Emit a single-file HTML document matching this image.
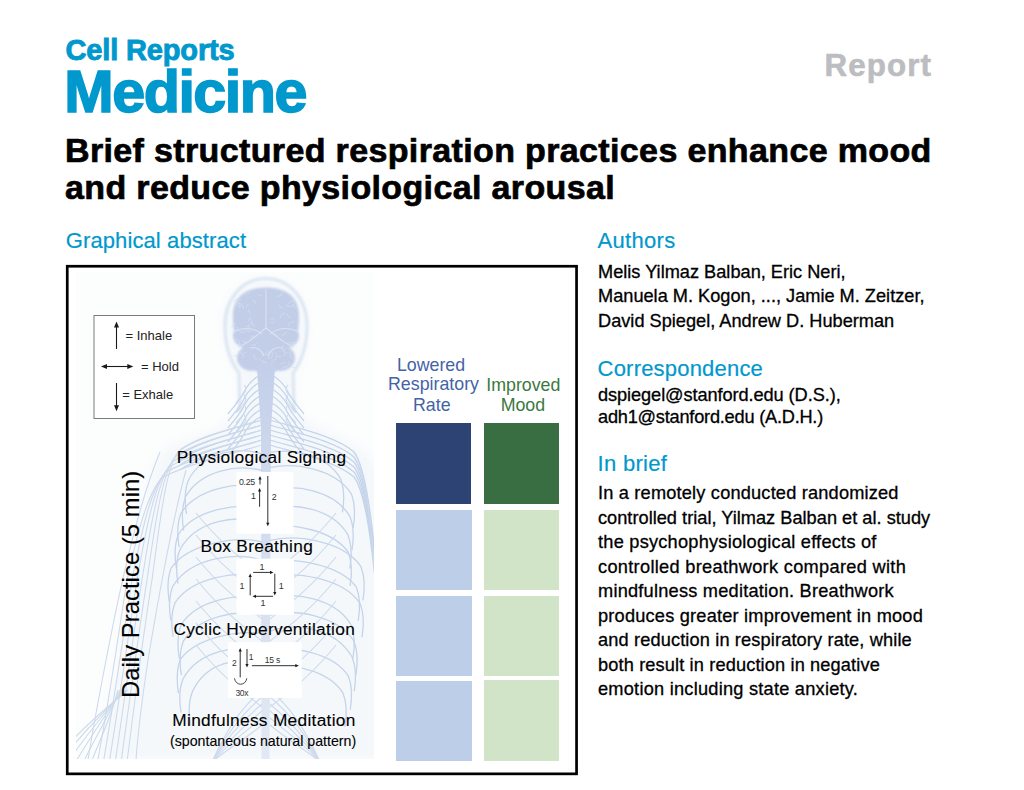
<!DOCTYPE html>
<html><head><meta charset="utf-8">
<style>
html,body{margin:0;padding:0;background:#fff;}
body{width:1024px;height:790px;position:relative;overflow:hidden;font-family:"Liberation Sans",sans-serif;}
.t{position:absolute;white-space:nowrap;line-height:1;}
.blue{color:#0098cd;-webkit-text-stroke:0.2px #0098cd;}
.b{font-weight:700;}
.body{color:#000;font-size:18.2px;-webkit-text-stroke:0.3px #000;}
.h{font-size:22px;}
#ga{display:none;}
.bar{position:absolute;}
.lbl{position:absolute;white-space:nowrap;line-height:1;font-size:17.8px;text-align:center;}
.pr{position:absolute;white-space:nowrap;line-height:1;font-size:17.8px;color:#000;-webkit-text-stroke:0.1px #000;}
</style></head><body>

<div class="t b blue" id="cell" style="left:65.5px;top:35.6px;font-size:29px;letter-spacing:-0.15px;-webkit-text-stroke:0.9px #0098cd;">Cell Reports</div>
<div class="t b blue" id="med" style="left:64.3px;top:61.7px;font-size:59.3px;letter-spacing:-1.5px;-webkit-text-stroke:1.6px #0098cd;">Medicine</div>
<div class="t b" id="report" style="left:824.6px;top:49.6px;font-size:31.3px;color:#bcbdc1;letter-spacing:1.1px;-webkit-text-stroke:0.6px #bcbdc1;">Report</div>

<div class="t b" id="t1" style="left:65px;top:133.2px;font-size:34px;letter-spacing:0.36px;color:#000;-webkit-text-stroke:0.7px #000;">Brief structured respiration practices enhance mood</div>
<div class="t b" id="t2" style="left:65px;top:169.9px;font-size:34px;letter-spacing:0.36px;color:#000;-webkit-text-stroke:0.7px #000;">and reduce physiological arousal</div>

<div class="t blue h" id="gah" style="left:65.8px;top:229.9px;letter-spacing:0.1px;">Graphical abstract</div>

<div class="t blue h" id="auth" style="left:597.6px;top:230.4px;letter-spacing:0.3px;">Authors</div>
<div class="t body" style="left:598px;top:262.80px;">Melis Yilmaz Balban, Eric Neri,</div>
<div class="t body" style="left:598px;top:287.40px;">Manuela M. Kogon, ..., Jamie M. Zeitzer,</div>
<div class="t body" style="left:598px;top:311.70px;">David Spiegel, Andrew D. Huberman</div>

<div class="t blue h" id="corr" style="left:597.6px;top:358.4px;letter-spacing:0.2px;">Correspondence</div>
<div class="t body" style="left:598px;top:385.90px;letter-spacing:-0.08px;">dspiegel@stanford.edu (D.S.),</div>
<div class="t body" style="left:598px;top:408.10px;letter-spacing:-0.22px;">adh1@stanford.edu (A.D.H.)</div>

<div class="t blue h" id="ib" style="left:597.6px;top:453.4px;letter-spacing:0.3px;">In brief</div>
<div class="t body" style="left:598px;top:484.49px;letter-spacing:0.19px;">In a remotely conducted randomized</div>
<div class="t body" style="left:598px;top:508.97px;letter-spacing:0.014px;">controlled trial, Yilmaz Balban et al. study</div>
<div class="t body" style="left:598px;top:533.45px;letter-spacing:0.236px;">the psychophysiological effects of</div>
<div class="t body" style="left:598px;top:557.93px;letter-spacing:0.31px;">controlled breathwork compared with</div>
<div class="t body" style="left:598px;top:582.41px;letter-spacing:0.227px;">mindfulness meditation. Breathwork</div>
<div class="t body" style="left:598px;top:606.89px;letter-spacing:0.21px;">produces greater improvement in mood</div>
<div class="t body" style="left:598px;top:631.37px;letter-spacing:0.138px;">and reduction in respiratory rate, while</div>
<div class="t body" style="left:598px;top:655.85px;letter-spacing:0.137px;">both result in reduction in negative</div>
<div class="t body" style="left:598px;top:680.33px;letter-spacing:0.24px;">emotion including state anxiety.</div>

<div id="ga"></div>
<svg id="fig" width="1024" height="790" viewBox="0 0 1024 790" style="position:absolute;left:0;top:0;">
<defs><clipPath id="ic"><rect x="76" y="272" width="298" height="487"/></clipPath><filter id="bl" x="-20%" y="-20%" width="140%" height="140%"><feGaussianBlur stdDeviation="1.2"/></filter><filter id="bl2" x="-30%" y="-30%" width="160%" height="160%"><feGaussianBlur stdDeviation="5"/></filter><filter id="bl3"><feGaussianBlur stdDeviation="0.6"/></filter><linearGradient id="sg" x1="0" y1="0" x2="0" y2="1"><stop offset="0" stop-color="#c3cfe9"/><stop offset="0.3" stop-color="#d0daee"/><stop offset="1" stop-color="#e2e9f4"/></linearGradient></defs>
<g clip-path="url(#ic)">
<rect x="76" y="272" width="298" height="487" fill="#fcfdfd"/>
<path d="M265 279 C291 279 308 300 307 327 C306 350 300 364 295 374 L296 410 C320 432 352 440 366 452 C378 462 384 480 386 500 L390 760 L100 760 C104 720 112 690 118 660 C126 610 136 530 152 470 C156 458 162 450 174 444 C200 434 226 428 238 410 L238 374 C230 364 224 350 223 327 C222 300 239 279 265 279 Z" fill="#f5f8fb" filter="url(#bl2)"/>
<path d="M240 412 L239 373 C228 358 225 342 225 326 C225 298 243 278.5 266 278.5 C289 278.5 307 298 307 326 C307 342 304 358 293 373 L294 412" fill="none" stroke="#dde7f3" stroke-width="3.2" filter="url(#bl)"/>
<g fill="#c2cee8" filter="url(#bl)"><path d="M233 318 C232 296 247 287.5 266 287.5 C285 287.5 300 296 299 318 C299 326 298 332 296 336 L236 336 C234 332 233 326 233 318 Z"/><ellipse cx="247.5" cy="336" rx="14.5" ry="12"/><ellipse cx="284.5" cy="336" rx="14.5" ry="12"/><ellipse cx="252" cy="358" rx="15" ry="13"/><ellipse cx="280" cy="358" rx="15" ry="13"/><path d="M255 326 L277 326 L276 372 L256 372 Z"/></g>
<g fill="none" stroke="#d6dff0" stroke-width="0.9" opacity="0.8" filter="url(#bl3)"><path d="M255.4 303.5 q0.5 -3.0 -2.5 -3.5"/><path d="M239.5 330.6 q2.1 3.5 5.6 1.3"/><path d="M240.2 298.9 q-4.9 -1.6 -6.5 3.3"/><path d="M243.4 309.0 q0.1 -5.5 -5.4 -5.6"/><path d="M270.6 322.1 q2.4 1.8 4.1 -0.6"/><path d="M287.5 314.0 q-0.4 3.1 2.8 3.5"/><path d="M254.5 354.0 q-1.5 4.2 2.7 5.7"/><path d="M274.3 320.3 q-1.4 -2.7 -4.1 -1.2"/><path d="M239.6 307.7 q1.4 -3.8 -2.4 -5.2"/><path d="M254.8 336.5 q-3.2 -1.7 -5.0 1.5"/><path d="M283.7 345.1 q-3.0 3.3 0.2 6.3"/><path d="M267.5 358.5 q2.2 -2.9 -0.7 -5.1"/><path d="M294.8 301.0 q-4.8 -1.3 -6.1 3.5"/><path d="M245.1 329.2 q2.4 4.0 6.5 1.6"/><path d="M281.9 335.5 q3.7 0.0 3.7 -3.7"/><path d="M277.7 337.2 q-1.2 -4.0 -5.1 -2.8"/><path d="M286.4 363.8 q-3.8 -2.7 -6.6 1.1"/><path d="M239.6 345.3 q0.8 -5.6 -4.8 -6.4"/><path d="M285.3 313.6 q-4.7 -0.3 -5.0 4.4"/><path d="M237.4 327.1 q-0.8 3.0 2.2 3.9"/><path d="M239.5 350.4 q-0.1 3.5 3.4 3.6"/><path d="M259.5 358.2 q1.1 3.9 5.1 2.8"/><path d="M269.0 359.1 q4.9 -1.8 3.1 -6.8"/><path d="M252.7 323.6 q-5.3 0.5 -4.8 5.8"/><path d="M293.5 303.5 q-1.1 3.3 2.2 4.4"/><path d="M250.0 328.9 q-0.8 -3.5 -4.3 -2.7"/><path d="M236.2 323.8 q-4.4 0.2 -4.3 4.6"/><path d="M293.2 344.5 q-2.9 -3.5 -6.4 -0.6"/><path d="M276.6 296.1 q5.0 0.8 5.7 -4.2"/><path d="M288.5 352.6 q-3.9 -0.4 -4.4 3.5"/><path d="M242.2 340.2 q1.2 2.8 3.9 1.6"/><path d="M248.5 304.3 q-2.9 0.7 -2.3 3.6"/><path d="M236.0 303.5 q0.6 3.8 4.4 3.2"/><path d="M237.5 358.4 q-0.2 -3.2 -3.5 -3.0"/><path d="M251.1 318.4 q-3.2 0.2 -2.9 3.4"/><path d="M286.9 367.5 q-3.5 -2.3 -5.8 1.3"/><path d="M241.2 299.8 q-3.5 0.7 -2.8 4.2"/><path d="M285.7 304.3 q3.3 4.4 7.7 1.1"/><path d="M267.7 366.4 q4.8 -0.4 4.4 -5.1"/><path d="M251.7 319.9 q-1.3 4.8 3.5 6.1"/><path d="M268.0 351.2 q-3.3 1.0 -2.3 4.3"/><path d="M284.7 366.9 q5.1 -0.7 4.3 -5.8"/><path d="M285.1 348.2 q-2.6 3.4 0.9 6.0"/><path d="M257.3 294.2 q2.1 3.0 5.0 0.9"/><path d="M251.6 344.6 q3.6 2.0 5.6 -1.6"/><path d="M292.2 367.1 q3.4 1.8 5.2 -1.5"/><path d="M249.2 309.2 q-1.5 3.1 1.6 4.5"/><path d="M273.4 360.4 q4.1 -0.9 3.2 -5.0"/><path d="M275.2 352.8 q1.2 4.5 5.7 3.4"/><path d="M290.6 351.5 q3.0 -3.0 -0.0 -5.9"/><path d="M246.7 352.0 q-4.9 1.3 -3.6 6.3"/><path d="M294.3 322.1 q-5.4 -0.9 -6.3 4.5"/><path d="M279.5 304.9 q-0.0 3.3 3.2 3.3"/><path d="M290.3 353.3 q-0.7 5.1 4.4 5.8"/><path d="M294.8 342.0 q-4.3 0.7 -3.6 5.0"/><path d="M243.9 293.1 q3.9 2.6 6.5 -1.2"/><path d="M267.6 363.0 q-4.9 -1.9 -6.8 3.0"/></g>
<path d="M266 289 L266 328 M266 328 C258 334 248 344 238 347 M266 328 C274 334 284 344 294 347 M233 332 C245 326 254 328 262 334 M299 332 C287 326 278 328 270 334 M250 348 C256 346 262 350 264 356 M282 348 C276 346 270 350 268 356" stroke="#d9e2f1" stroke-width="1.1" fill="none" filter="url(#bl3)"/>
<path d="M257 364 L275 364 C274 390 272 410 271 430 L269.5 760 L261.5 760 L261 430 C260 410 258 390 257 364 Z" fill="url(#sg)" filter="url(#bl3)"/>
<g fill="none" stroke="#c4d4ea" stroke-width="1.3" filter="url(#bl3)"><path d="M262 374 C254 378 248 384 244 392 C240 400 236 404 228 414"/><path d="M270 374 C278 378 284 384 288 392 C292 400 296 404 304 414"/><path d="M262 381 C254 385 248 391 244 399 C240 407 236 411 228 421"/><path d="M270 381 C278 385 284 391 288 399 C292 407 296 411 304 421"/><path d="M262 388 C254 392 248 398 244 406 C240 414 236 418 228 428"/><path d="M270 388 C278 392 284 398 288 406 C292 414 296 418 304 428"/><path d="M262 395 C254 399 248 405 244 413 C240 421 236 425 228 435"/><path d="M270 395 C278 399 284 405 288 413 C292 421 296 425 304 435"/><path d="M262 402 C254 406 248 412 244 420 C240 428 236 432 228 442"/><path d="M270 402 C278 406 284 412 288 420 C292 428 296 432 304 442"/><path d="M262 409 C254 413 248 419 244 427 C240 435 236 439 228 449"/><path d="M270 409 C278 413 284 419 288 427 C292 435 296 439 304 449"/><path d="M262 416 C254 420 248 426 244 434 C240 442 236 446 228 456"/><path d="M270 416 C278 420 284 426 288 434 C292 442 296 446 304 456"/><path d="M270 420 C296 428 336 436 354 452 C366 468 372 520 380 600"/><path d="M270 425 C296 433 336 441 354 457 C366 473 372 525 380 605"/><path d="M270 430 C296 438 336 446 354 462 C366 478 372 530 380 610"/><path d="M270 435 C296 443 336 451 354 467 C366 483 372 535 380 615"/><path d="M270 440 C296 448 336 456 354 472 C366 488 372 540 380 620"/><path d="M270 445 C296 453 336 461 354 477 C366 493 372 545 380 625"/><path d="M262 420 C236 428 200 436 180 450"/><path d="M262 425 C236 433 200 441 180 455"/><path d="M262 430 C236 438 200 446 180 460"/><path d="M262 435 C236 443 200 451 180 465"/><path d="M262 440 C236 448 200 456 180 470"/><path d="M262 454.0 C238 446.0 203.2 452.0 188.5 480.0 C184.5 490.0 184.5 502.0 186.5 514.0"/><path d="M270 452.3 C294 448.3 326.3 454.3 340.4 478.3 C344.4 488.3 344.4 500.3 342.4 512.3"/><path d="M262 470.5 C238 463.9 201.0 469.9 185.7 496.5 C181.7 506.5 181.7 518.5 183.7 530.5"/><path d="M270 467.6 C294 462.2 335.0 468.2 351.2 493.6 C355.2 503.6 355.2 515.6 353.2 527.6"/><path d="M262 487.1 C238 481.8 197.3 487.8 181.1 513.1 C177.1 523.1 177.1 535.1 179.1 547.1"/><path d="M270 490.4 C294 483.7 334.0 489.7 349.9 516.4 C353.9 526.4 353.9 538.4 351.9 550.4"/><path d="M262 508.5 C238 502.8 195.1 508.8 178.4 534.5 C174.4 544.5 174.4 556.5 176.4 568.5"/><path d="M270 508.7 C294 502.4 332.3 508.4 347.8 534.7 C351.8 544.7 351.8 556.7 349.8 568.7"/><path d="M262 523.6 C238 513.7 196.4 519.7 180.0 549.6 C176.0 559.6 176.0 571.6 178.0 583.6"/><path d="M270 526.0 C294 524.0 332.5 530.0 348.1 552.0 C352.1 562.0 352.1 574.0 350.1 586.0"/><path d="M262 541.8 C238 536.3 189.4 542.3 171.3 567.8 C167.3 577.8 167.3 589.8 169.3 601.8"/><path d="M270 540.4 C294 534.0 342.7 540.0 360.9 566.4 C364.9 576.4 364.9 588.4 362.9 600.4"/><path d="M262 560.3 C238 551.2 190.6 557.2 172.8 586.3 C168.8 596.3 168.8 608.3 170.8 620.3"/><path d="M270 560.8 C294 558.0 339.0 564.0 356.2 586.8 C360.2 596.8 360.2 608.8 358.2 620.8"/><path d="M262 576.7 C238 570.7 192.5 576.7 175.1 602.7 C171.1 612.7 171.1 624.7 173.1 636.7"/><path d="M270 577.2 C294 571.1 342.0 577.1 360.0 603.2 C364.0 613.2 364.0 625.2 362.0 637.2"/><path d="M262 598.5 C238 593.4 197.4 599.4 181.3 624.5 C177.3 634.5 177.3 646.5 179.3 658.5"/><path d="M270 598.5 C294 591.6 334.7 597.6 350.9 624.5 C354.9 634.5 354.9 646.5 352.9 658.5"/><path d="M262 615.2 C238 609.4 199.1 615.4 183.4 641.2 C179.4 651.2 179.4 663.2 181.4 675.2"/><path d="M270 615.0 C294 608.7 337.1 614.7 353.9 641.0 C357.9 651.0 357.9 663.0 355.9 675.0"/><path d="M262 633.2 C238 630.7 196.8 636.7 180.5 659.2 C176.5 669.2 176.5 681.2 178.5 693.2"/><path d="M270 631.3 C294 621.7 335.8 627.7 352.2 657.3 C356.2 667.3 356.2 679.3 354.2 691.3"/><path d="M262 652.7 C238 643.8 198.9 649.8 183.1 678.7 C179.1 688.7 179.1 700.7 181.1 712.7"/><path d="M270 649.6 C294 646.5 332.5 652.5 348.2 675.6 C352.2 685.6 352.2 697.6 350.2 709.6"/><path d="M262 665.4 C238 656.0 206.4 662.0 192.5 691.4 C188.5 701.4 188.5 713.4 190.5 725.4"/><path d="M270 666.8 C294 664.2 328.3 670.2 342.9 692.8 C346.9 702.8 346.9 714.8 344.9 726.8"/></g>
<g fill="none" stroke="#cddaec" stroke-width="1.1" filter="url(#bl3)"><path d="M244 385 C250 391 240 397 236 403"/><path d="M288 385 C282 391 292 397 296 403"/><path d="M244 395 C250 401 240 407 236 413"/><path d="M288 395 C282 401 292 407 296 413"/><path d="M244 405 C250 411 240 417 236 423"/><path d="M288 405 C282 411 292 417 296 423"/><path d="M244 415 C250 421 240 427 236 433"/><path d="M288 415 C282 421 292 427 296 433"/><path d="M262 420 C236 428 196 436 178 452 C166 468 160 520 152 580 C144 630 136 690 126 770"/><path d="M262 425 C236 433 196 441 175 457 C162 473 155 525 147 580 C139 630 131 690 120 770"/><path d="M262 430 C236 438 196 446 172 462 C158 478 150 530 142 580 C134 630 126 690 114 770"/><path d="M262 435 C236 443 196 451 169 467 C154 483 145 535 137 580 C129 630 121 690 108 770"/><path d="M262 440 C236 448 196 456 166 472 C150 488 140 540 132 580 C124 630 116 690 102 770"/><path d="M262 445 C236 453 196 461 163 477 C146 493 135 545 127 580 C119 630 111 690 96 770"/><path d="M118 690 C112 715 100 740 90 765"/><path d="M120 690 C109 715 94 740 82 765"/><path d="M122 690 C106 715 88 740 74 765"/><path d="M124 690 C103 715 82 740 66 765"/><path d="M126 690 C100 715 76 740 58 765"/><path d="M128 690 C97 715 70 740 50 765"/><path d="M262 575 C244 561 222 545 196 513"/><path d="M270 575 C288 561 310 545 336 513"/><path d="M262 597 C244 583 222 567 196 535"/><path d="M270 597 C288 583 310 567 336 535"/><path d="M262 619 C244 605 222 589 196 557"/><path d="M270 619 C288 605 310 589 336 557"/><path d="M262 641 C244 627 222 611 196 579"/><path d="M270 641 C288 627 310 611 336 579"/><path d="M262 663 C244 649 222 633 196 601"/><path d="M270 663 C288 649 310 633 336 601"/><path d="M262 685 C244 671 222 655 196 623"/><path d="M270 685 C288 671 310 655 336 623"/><path d="M262 707 C244 693 222 677 196 645"/><path d="M270 707 C288 693 310 677 336 645"/><path d="M160 452 C140 500 124 570 112 630 C104 670 96 710 88 760"/><path d="M186 470 C170 530 158 600 148 660 C142 700 138 730 136 760"/><path d="M352 455 C366 470 372 520 376 600"/><path d="M262 690 C244 705 226 730 212 762"/><path d="M270 690 C288 705 306 730 320 762"/><path d="M262 697 C244 712 226 734 212 762"/><path d="M270 697 C288 712 306 734 320 762"/><path d="M262 704 C244 719 226 738 212 762"/><path d="M270 704 C288 719 306 738 320 762"/><path d="M262 711 C244 726 226 742 212 762"/><path d="M270 711 C288 726 306 742 320 762"/><path d="M262 718 C244 733 226 746 212 762"/><path d="M270 718 C288 733 306 746 320 762"/><path d="M262 725 C244 740 226 750 212 762"/><path d="M270 725 C288 740 306 750 320 762"/></g>
</g>
<g font-family="Liberation Sans, sans-serif">
<rect x="67.25" y="266.25" width="509.3" height="507.6" fill="none" stroke="#000" stroke-width="2.7"/>
<rect x="94" y="315.5" width="100.5" height="103" fill="#fff" stroke="#7a7a7a" stroke-width="1"/>
<line x1="116.5" y1="349" x2="116.50" y2="325.60" stroke="#1a1a1a" stroke-width="1.1"/><path d="M116.50 321.40 L119.00 327.40 L114.00 327.40 Z" fill="#1a1a1a"/>
<text x="125.5" y="339.6" font-size="13" text-anchor="start" fill="#222" letter-spacing="0">= Inhale</text>
<line x1="105.20" y1="366.50" x2="129.10" y2="366.50" stroke="#1a1a1a" stroke-width="1.1"/><path d="M133.30 366.50 L127.30 369.00 L127.30 364.00 Z" fill="#1a1a1a"/><path d="M101.00 366.50 L107.00 369.00 L107.00 364.00 Z" fill="#1a1a1a"/>
<text x="141" y="371" font-size="13" text-anchor="start" fill="#222" letter-spacing="0">= Hold</text>
<line x1="116.5" y1="383" x2="116.50" y2="407.10" stroke="#1a1a1a" stroke-width="1.1"/><path d="M116.50 411.30 L114.00 405.30 L119.00 405.30 Z" fill="#1a1a1a"/>
<text x="122.2" y="399.2" font-size="13" text-anchor="start" fill="#222" letter-spacing="0">= Exhale</text>
<rect x="236.4" y="471.9" width="57" height="61.8" fill="#fff"/>
<text x="239" y="484.5" font-size="8.8" text-anchor="start" fill="#333" letter-spacing="-0.3">0.25</text>
<line x1="260" y1="484.5" x2="260.00" y2="478.45" stroke="#1a1a1a" stroke-width="0.9"/><path d="M260.00 476.00 L261.60 479.50 L258.40 479.50 Z" fill="#1a1a1a"/>
<text x="253.5" y="499.4" font-size="8.8" text-anchor="middle" fill="#333" letter-spacing="0">1</text>
<line x1="259.6" y1="506.8" x2="259.60" y2="490.45" stroke="#1a1a1a" stroke-width="0.9"/><path d="M259.60 488.00 L261.20 491.50 L258.00 491.50 Z" fill="#1a1a1a"/>
<line x1="267.8" y1="476" x2="267.80" y2="523.85" stroke="#1a1a1a" stroke-width="0.9"/><path d="M267.80 526.30 L266.20 522.80 L269.40 522.80 Z" fill="#1a1a1a"/>
<text x="271.7" y="499.5" font-size="8.8" text-anchor="start" fill="#333" letter-spacing="0">2</text>
<rect x="236.5" y="558.7" width="57.4" height="56.1" fill="#fff"/>
<line x1="253.2" y1="572.4" x2="271.05" y2="572.40" stroke="#1a1a1a" stroke-width="0.9"/><path d="M273.50 572.40 L270.00 574.00 L270.00 570.80 Z" fill="#1a1a1a"/>
<line x1="274.8" y1="573.7" x2="274.80" y2="593.05" stroke="#1a1a1a" stroke-width="0.9"/><path d="M274.80 595.50 L273.20 592.00 L276.40 592.00 Z" fill="#1a1a1a"/>
<line x1="273" y1="596.3" x2="254.95" y2="596.30" stroke="#1a1a1a" stroke-width="0.9"/><path d="M252.50 596.30 L256.00 594.70 L256.00 597.90 Z" fill="#1a1a1a"/>
<line x1="250.2" y1="595.4" x2="250.20" y2="575.95" stroke="#1a1a1a" stroke-width="0.9"/><path d="M250.20 573.50 L251.80 577.00 L248.60 577.00 Z" fill="#1a1a1a"/>
<text x="262" y="569.6" font-size="9" text-anchor="middle" fill="#333" letter-spacing="0">1</text>
<text x="242" y="589" font-size="9" text-anchor="middle" fill="#333" letter-spacing="0">1</text>
<text x="281.3" y="589" font-size="9" text-anchor="middle" fill="#333" letter-spacing="0">1</text>
<text x="263.1" y="606" font-size="9" text-anchor="middle" fill="#333" letter-spacing="0">1</text>
<rect x="227.9" y="642.2" width="73.8" height="55.7" fill="#fff"/>
<line x1="240.2" y1="677.4" x2="240.20" y2="650.45" stroke="#1a1a1a" stroke-width="0.9"/><path d="M240.20 648.00 L241.80 651.50 L238.60 651.50 Z" fill="#1a1a1a"/>
<line x1="247" y1="649" x2="247.00" y2="665.15" stroke="#1a1a1a" stroke-width="0.9"/><path d="M247.00 667.60 L245.40 664.10 L248.60 664.10 Z" fill="#1a1a1a"/>
<text x="234.3" y="666" font-size="8.5" text-anchor="middle" fill="#333" letter-spacing="0">2</text>
<text x="251.2" y="660" font-size="8.5" text-anchor="middle" fill="#333" letter-spacing="0">1</text>
<line x1="251.9" y1="665.7" x2="296.35" y2="665.70" stroke="#1a1a1a" stroke-width="0.9"/><path d="M298.80 665.70 L295.30 667.30 L295.30 664.10 Z" fill="#1a1a1a"/>
<text x="272.4" y="663" font-size="8.5" text-anchor="middle" fill="#333" letter-spacing="-0.2">15 s</text>
<path d="M234.5 678.3 A6.2 6.8 0 0 0 246.8 678.3" fill="none" stroke="#333" stroke-width="0.9"/>
<text x="241.8" y="695.5" font-size="8.5" text-anchor="middle" fill="#333" letter-spacing="-0.4">30x</text>
</g>
</svg>
<div class="lbl" style="left:381px;width:100px;top:356.9px;color:#4463a6;">Lowered</div>
<div class="lbl" style="left:383.5px;width:100px;top:376.4px;color:#4463a6;">Respiratory</div>
<div class="lbl" style="left:381.8px;width:100px;top:396.8px;color:#4463a6;">Rate</div>
<div class="lbl" style="left:473.3px;width:100px;top:376.5px;color:#3c7842;">Improved</div>
<div class="lbl" style="left:472.9px;width:100px;top:396.8px;color:#3c7842;">Mood</div>
<div class="bar" style="left:396px;top:423px;width:75px;height:81px;background:#2c4373;"></div>
<div class="bar" style="left:484px;top:423px;width:75px;height:81px;background:#386e42;"></div>
<div class="bar" style="left:396px;top:510px;width:76px;height:80px;background:#bcceE8;"></div>
<div class="bar" style="left:484px;top:510px;width:75px;height:80px;background:#d2e4c7;"></div>
<div class="bar" style="left:396px;top:596px;width:76px;height:80px;background:#bcceE8;"></div>
<div class="bar" style="left:484px;top:596px;width:75px;height:80px;background:#d2e4c7;"></div>
<div class="bar" style="left:395.5px;top:681px;width:76px;height:80px;background:#bcceE8;"></div>
<div class="bar" style="left:484px;top:680px;width:75px;height:81px;background:#d2e4c7;"></div>
<div class="pr" style="left:176.8px;top:449.46px;font-size:17.3px;letter-spacing:0.3px;">Physiological Sighing</div>
<div class="pr" style="left:200.6px;top:538.16px;font-size:17.3px;letter-spacing:0.3px;">Box Breathing</div>
<div class="pr" style="left:173.4px;top:620.66px;font-size:17.3px;letter-spacing:0.3px;">Cyclic Hyperventilation</div>
<div class="pr" style="left:172.3px;top:711.66px;font-size:17.3px;letter-spacing:0.3px;">Mindfulness Meditation</div>
<div class="pr" style="left:170px;top:734.2px;font-size:14.2px;">(spontaneous natural pattern)</div>
<div class="pr" id="daily" style="left:119.5px;top:698.3px;font-size:23.7px;letter-spacing:0.1px;transform:rotate(-90deg);transform-origin:0 0;">Daily Practice (5 min)</div>


</body></html>
